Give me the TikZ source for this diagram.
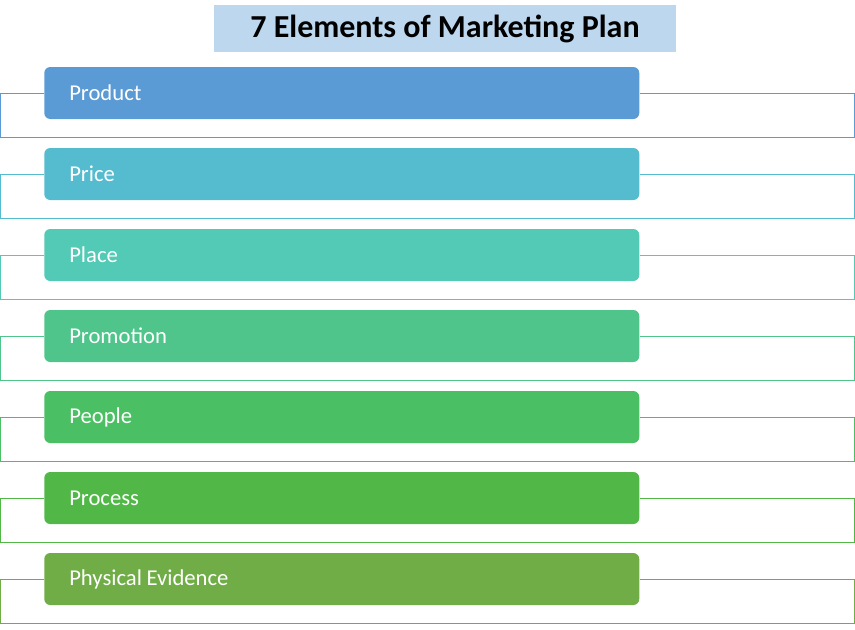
\documentclass[tikz,border=0pt]{standalone}
\usepackage{fontspec}
\setmainfont{Carlito}
\definecolor{titleBlue}{HTML}{BDD7EE}
\definecolor{colProduct}{HTML}{5B9BD5}
\definecolor{colPrice}{HTML}{55BBCF}
\definecolor{colPlace}{HTML}{53CAB5}
\definecolor{colPromotion}{HTML}{4FC58B}
\definecolor{colPeople}{HTML}{4BBF63}
\definecolor{colProcess}{HTML}{51B848}
\definecolor{colEvidence}{HTML}{70AD47}
\tikzset{%
  bar/.style={fill=#1, rounded corners=4.5pt, anchor=west, text=white,
    text width=408.75pt, inner xsep=18.75pt, inner ysep=0pt, minimum height=39pt,
    align=left, font=\fontsize{17}{20}\selectfont},%
  frame/.style={draw=#1, line width=0.75pt},%
}
\begin{document}
\begin{tikzpicture}[x=0.75pt,y=-0.75pt]%
\useasboundingbox (0,0) rectangle (855,629);%
%
\node[fill=titleBlue, minimum width=346.5pt, minimum height=35.25pt, inner sep=0pt,
  font=\bfseries\fontsize{24}{28}\selectfont] (title) at (445,28.5) {7 Elements of Marketing Plan};%
%
\def\rowName{Product};%
\def\ypos{93};%
\node[bar=colProduct] (product) at (44,\ypos) {\rowName};%
\draw[frame=colProduct] (product.west) -- (0,\ypos) |- (854,\ypos+44) |- (product.east);%
%
\def\rowName{Price};%
\def\ypos{174};%
\node[bar=colPrice] (price) at (44,\ypos) {\rowName};%
\draw[frame=colPrice] (price.west) -- (0,\ypos) |- (854,\ypos+44) |- (price.east);%
%
\def\rowName{Place};%
\def\ypos{255};%
\node[bar=colPlace] (place) at (44,\ypos) {\rowName};%
\draw[frame=colPlace] (place.west) -- (0,\ypos) |- (854,\ypos+44) |- (place.east);%
%
\def\rowName{Promotion};%
\def\ypos{336};%
\node[bar=colPromotion] (promotion) at (44,\ypos) {\rowName};%
\draw[frame=colPromotion] (promotion.west) -- (0,\ypos) |- (854,\ypos+44) |- (promotion.east);%
%
\def\rowName{People};%
\def\ypos{417};%
\node[bar=colPeople] (people) at (44,\ypos) {\rowName};%
\draw[frame=colPeople] (people.west) -- (0,\ypos) |- (854,\ypos+44) |- (people.east);%
%
\def\rowName{Process};%
\def\ypos{498};%
\node[bar=colProcess] (process) at (44,\ypos) {\rowName};%
\draw[frame=colProcess] (process.west) -- (0,\ypos) |- (854,\ypos+44) |- (process.east);%
%
\def\rowName{Physical\hspace{0.2em}Evidence};%
\def\ypos{579};%
\node[bar=colEvidence] (evidence) at (44,\ypos) {\rowName};%
\draw[frame=colEvidence] (evidence.west) -- (0,\ypos) |- (854,\ypos+44) |- (evidence.east);%
%
\end{tikzpicture}
\end{document}
